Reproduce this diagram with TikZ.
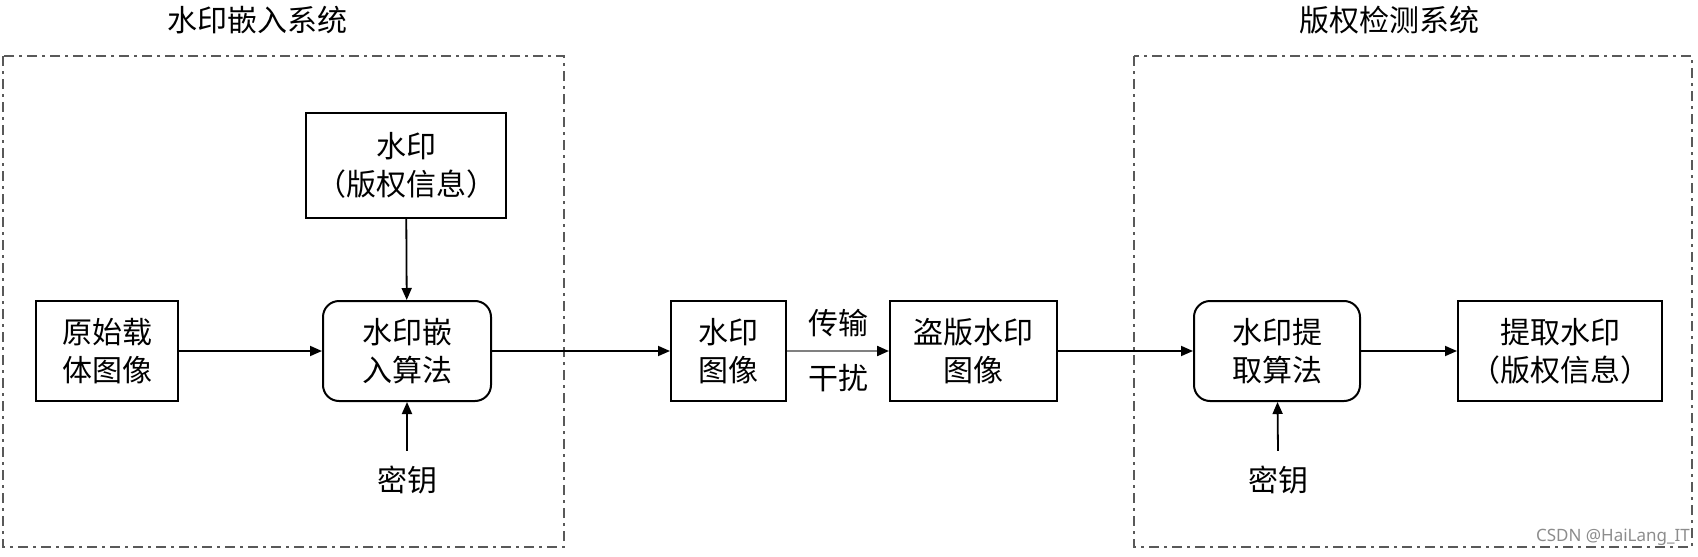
\documentclass[tikz,border=0pt]{standalone}
\usepackage{fontspec}
\setmainfont{Noto Sans CJK SC}
\newfontfamily\marksans{Noto Sans}
\usetikzlibrary{arrows.meta}

\tikzset{
  box/.style={draw, line width=1pt, minimum height=50pt, align=center, inner sep=0pt},
  algbox/.style={box, rounded corners=8pt},
  sysframe/.style={draw=black!65, line width=0.9pt, dash pattern=on 5pt off 2.5pt on 1.5pt off 2.5pt},
  flow/.style={-{Triangle[length=6pt,width=5pt]}, line width=0.9pt},
}

\begin{document}
\begin{tikzpicture}[x=0.5pt, y=-0.5pt, font=\fontsize{15pt}{19pt}\selectfont]
    \useasboundingbox (0,0) rectangle (1698,557);

    % two system frames
    \draw[sysframe] (3,56) rectangle (564,547);
    \draw[sysframe] (1134,56) rectangle (1692,547);
    \node (embsys) at (257,20) {水印嵌入系统};
    \node (detsys) at (1389,20) {版权检测系统};

    % embedding side
    \node[box, minimum width=100pt, minimum height=52.5pt] (wm) at (406,165.5) {水印\\（版权信息）};
    \node[box, minimum width=71pt] (src) at (107,351) {原始载\\体图像};
    \node[algbox, minimum width=84pt] (emb) at (407,351) {水印嵌\\入算法};
    \node (key1) at (407,480) {密钥};

    % channel
    \node[box, minimum width=57.5pt] (wimg) at (728.5,351) {水印\\图像};
    \node[box, minimum width=83.5pt] (pir) at (973.5,351) {盗版水印\\图像};

    % detection side
    \node[algbox, minimum width=83pt] (ext) at (1277,351) {水印提\\取算法};
    \node[box, minimum width=102pt] (out) at (1560,351) {提取水印\\（版权信息）};
    \node (key2) at (1278,480) {密钥};

    \draw[flow] (wm) -- (emb);
    \draw[flow] (src) -- (emb);
    \draw[flow] ([yshift=4pt]key1.north) -- (emb);
    \draw[flow] (emb) -- (wimg);
    \draw[-{Triangle[length=6pt,width=5pt,black]}, line width=1.1pt, draw=black!50] (wimg) -- node[above=3pt] {传输} node[below=3pt] {干扰} (pir);
    \draw[flow] (pir) -- (ext);
    \draw[flow] (ext) -- (out);
    \draw[flow] ([yshift=4pt]key2.north) -- (ext);

    \node[text=black!45, font=\marksans\fontsize{8.5pt}{10pt}\selectfont] (mark) at (1613,537) {CSDN @HaiLang\_IT};
\end{tikzpicture}
\end{document}
